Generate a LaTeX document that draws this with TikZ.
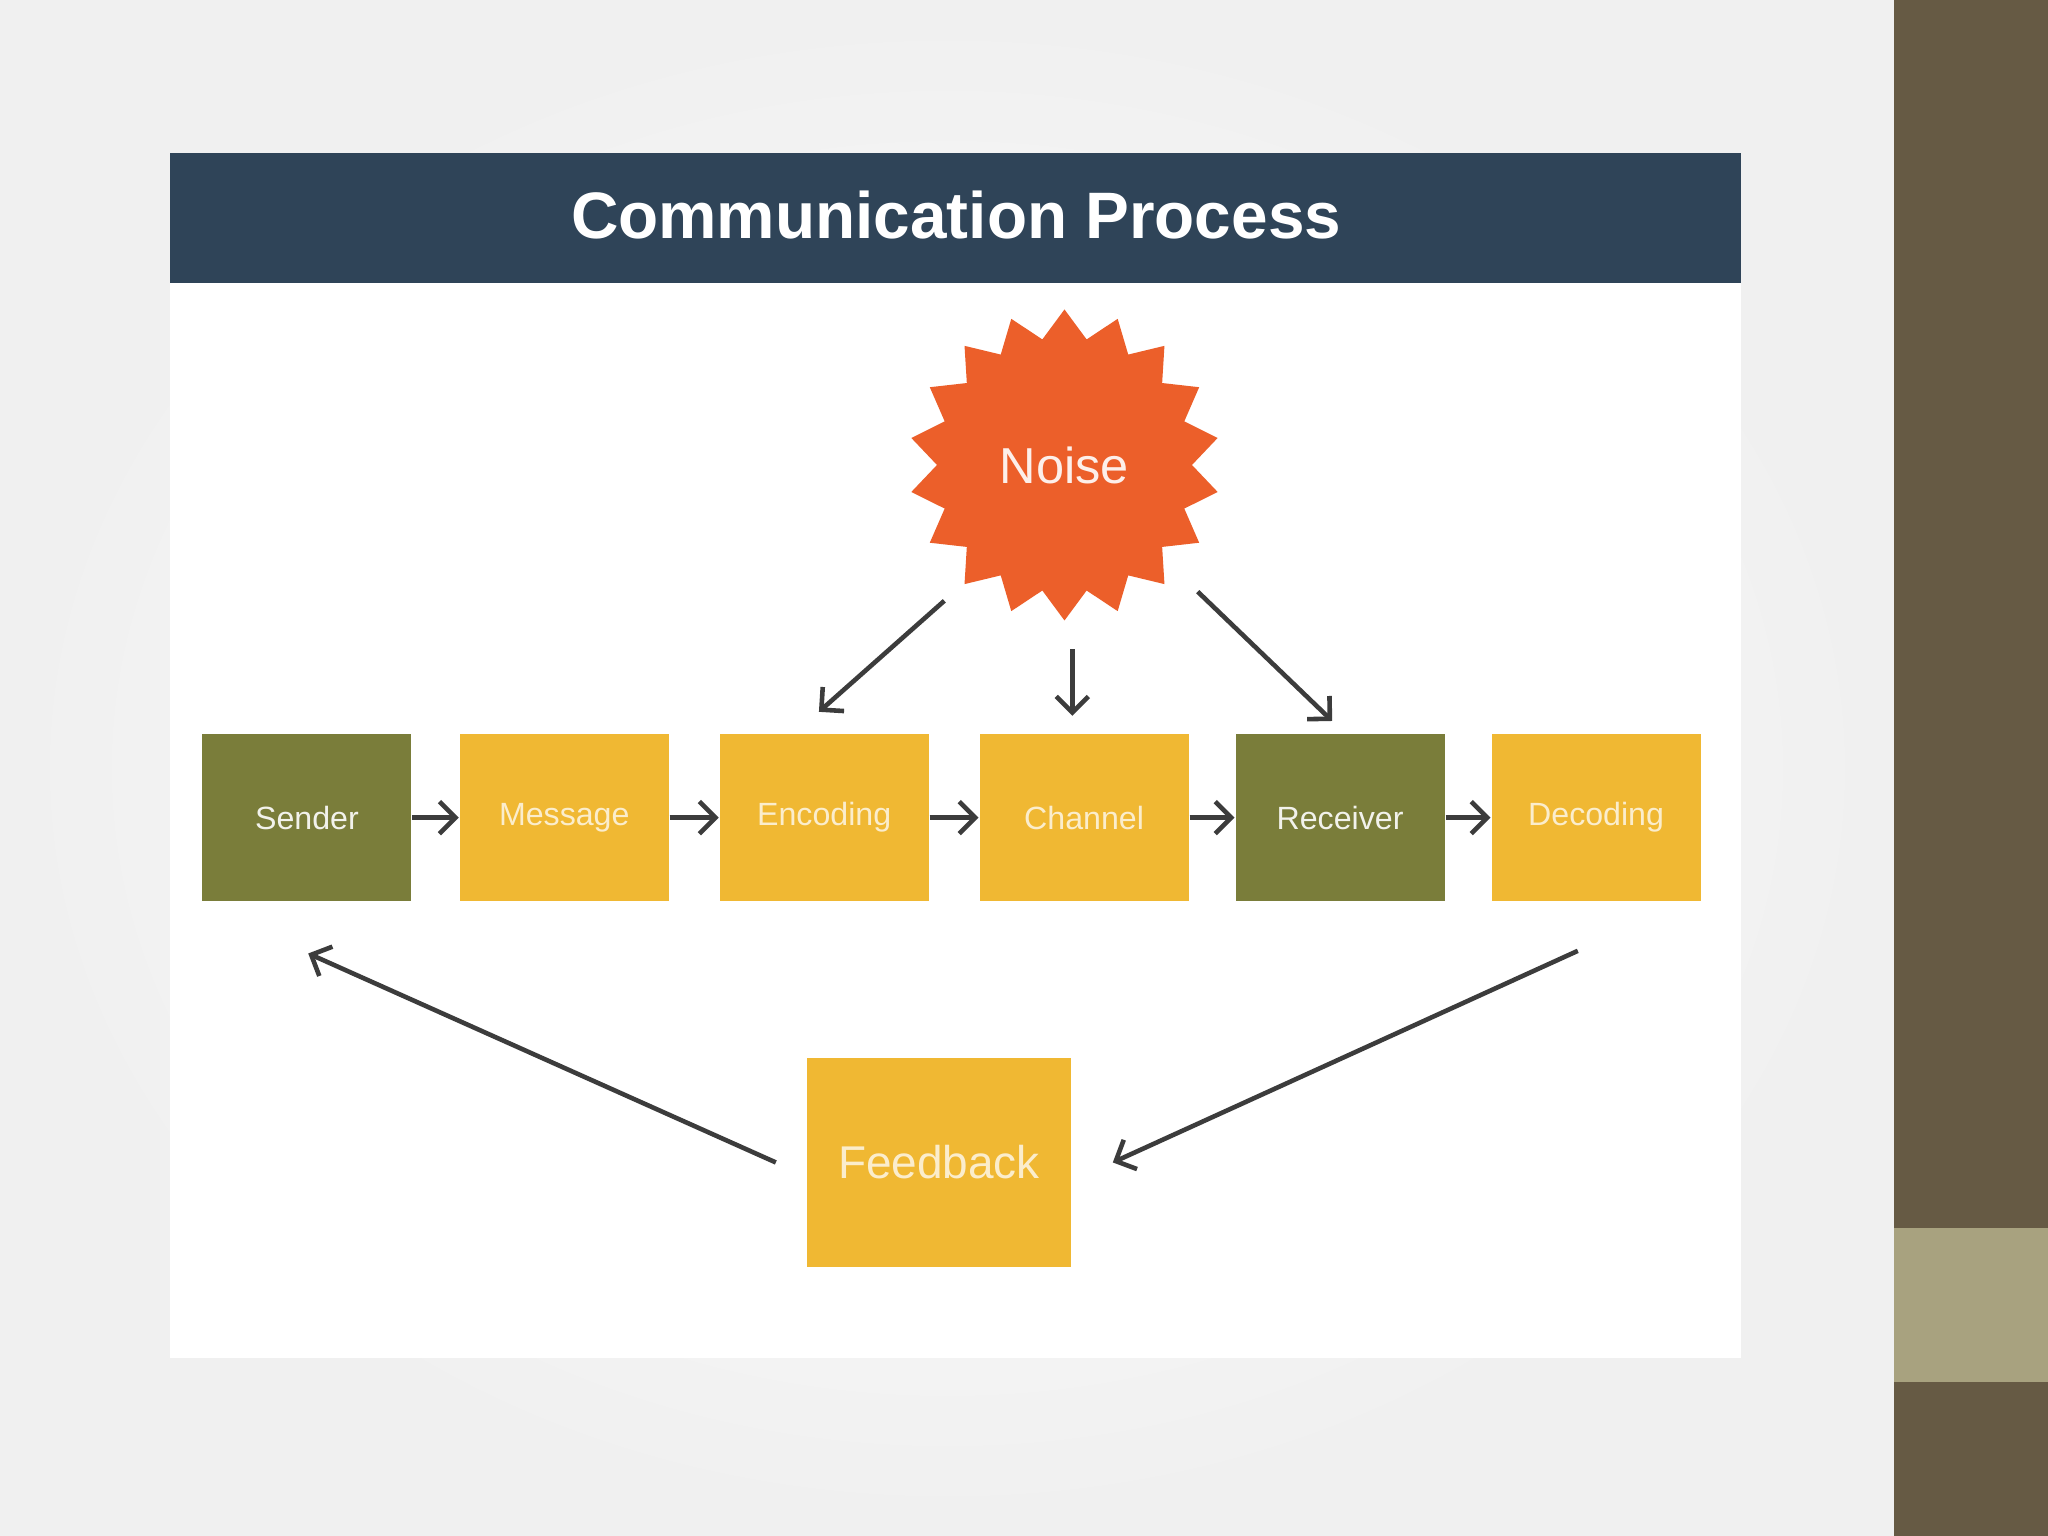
\documentclass[tikz,border=0pt]{standalone}
\usepackage{fontspec}
\setmainfont{Liberation Sans}
\usetikzlibrary{shapes.geometric,arrows.meta}
\definecolor{olive}{HTML}{7A7D3A}
\definecolor{gold}{HTML}{F0B833}
\definecolor{navy}{HTML}{2F4458}
\definecolor{noise}{HTML}{EC5F2A}
\definecolor{brownbar}{HTML}{665A44}
\definecolor{tanbar}{HTML}{A8A27F}
\definecolor{arr}{HTML}{3C3C3C}
\begin{document}
\begin{tikzpicture}[x=0.01cm,y=-0.01cm,
  box/.style={minimum width=1.6cm,minimum height=1.28cm,inner sep=0pt,font=\fontsize{7}{8}\selectfont},
  ybox/.style={box,fill=gold,text=white!75!gold},
  obox/.style={box,fill=olive,text=white!90!olive},
  ar/.style={draw=arr,line width=1pt,-{Straight Barb[length=3.5pt,width=7pt]}}]
\useasboundingbox (0,0) rectangle (1568,1176);
\shade[inner color=white,outer color=gray!12] (0,0) rectangle (1450,1176);
\fill[white] (130,117) rectangle (1333,1040);
\fill[brownbar] (1450,0) rectangle (1568,1176);
\fill[tanbar] (1450,940) rectangle (1568,1058);
\fill[navy] (130,117) rectangle (1333,217);
\node[text=white,font=\bfseries\fontsize{14.3}{16}\selectfont] (title) at (732,165) {Communication Process};
\node[star,star points=18,star point ratio=1.22,fill=noise,minimum size=2.38cm,text=white!90!noise,font=\fontsize{11}{13}\selectfont] (noise) at (815,356) {Noise};
\node[obox] (s) at (235,626) {Sender};
\node[ybox] (m) at (432,626) {Message};
\node[ybox] (e) at (631,626) {Encoding};
\node[ybox] (c) at (830,626) {Channel};
\node[obox] (r) at (1026,626) {Receiver};
\node[ybox] (d) at (1222,626) {Decoding};
\node[ybox,minimum width=2.02cm,minimum height=1.6cm,font=\fontsize{10}{12}\selectfont] (f) at (719,890) {Feedback};
\foreach \a/\b in {s/m,m/e,e/c,c/r,r/d}{\draw[ar] (\a) -- (\b);}
\coordinate (n1) at (723,460); \coordinate (n2) at (821,497); \coordinate (n3) at (917,453);
\coordinate (t1) at (627,545); \coordinate (t2) at (821,548); \coordinate (t3) at (1020,552);
\draw[ar] (n1) -- (t1); \draw[ar] (n2) -- (t2); \draw[ar] (n3) -- (t3);
\coordinate (fd) at (1208,728); \coordinate (fs) at (236,730);
\coordinate (fe) at (852,890); \coordinate (fw) at (594,890);
\draw[ar] (fd) -- (fe);
\draw[ar] (fw) -- (fs);
\end{tikzpicture}
\end{document}
